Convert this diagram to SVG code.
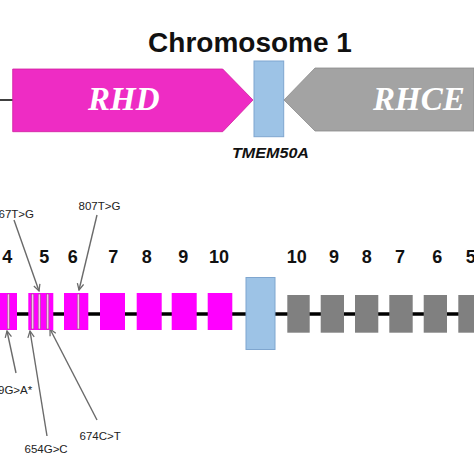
<svg xmlns="http://www.w3.org/2000/svg" width="474" height="474" viewBox="0 0 474 474">
<style>
.title{font-family:"Liberation Sans",Arial,sans-serif;font-weight:bold;font-size:28px;fill:#111}
.gene{font-family:"Liberation Serif","Times New Roman",serif;font-weight:bold;font-style:italic;font-size:33px;fill:#fff}
.tm{font-family:"Liberation Sans",Arial,sans-serif;font-weight:bold;font-style:italic;font-size:14px;fill:#111}
.num{font-family:"Liberation Sans",Arial,sans-serif;font-weight:bold;font-size:18px;fill:#111;text-anchor:middle}
.mut{font-family:"Liberation Sans",Arial,sans-serif;font-size:11.5px;fill:#222}
.exD{fill:#ff00ff}
.exC{fill:#808080}
.stripe{fill:#f6c4ec;stroke:#a0508c;stroke-width:0.6}
.blue{fill:#9dc3e6;stroke:#7fa6cf;stroke-width:1}
.ptr{stroke:#6a6a6a;stroke-width:1.4;fill:none;marker-end:url(#v)}
</style>
<defs>
<marker id="v" viewBox="0 0 10 10" refX="9" refY="5" markerWidth="8" markerHeight="8" orient="auto" markerUnits="userSpaceOnUse">
<path d="M1,1 L9,5 L1,9" fill="none" stroke="#6a6a6a" stroke-width="1.6"/>
</marker>
</defs>
<rect width="474" height="474" fill="#fff"/>

<text class="title" x="250" y="52" text-anchor="middle">Chromosome 1</text>

<g id="connectors">
<line x1="0" y1="100" x2="13" y2="100" stroke="#111" stroke-width="1.6"/>
<line x1="0" y1="314" x2="474" y2="314" stroke="#000" stroke-width="3.5"/>
<line class="ptr" x1="14" y1="220" x2="39" y2="291"/>
<line class="ptr" x1="97" y1="215" x2="79" y2="290"/>
<line class="ptr" x1="16" y1="373" x2="7" y2="331"/>
<line class="ptr" x1="47" y1="436" x2="30" y2="331"/>
<line class="ptr" x1="97" y1="420" x2="50" y2="329"/>
</g>

<g id="RHD-gene">
<polygon points="12.7,69 222.7,69 253,100 222.7,131.7 12.7,131.7" fill="#ee2cc4" stroke="#d0209e" stroke-width="0.8"/>
<text class="gene" x="88" y="110">RHD</text>
</g>
<g id="TMEM50A-gene">
<rect class="blue" x="254" y="61" width="29.7" height="75.7"/>
<text class="tm" x="232" y="158" textLength="77" lengthAdjust="spacingAndGlyphs">TMEM50A</text>
</g>
<g id="RHCE-gene">
<polygon points="474,68 315,68 284,100 315,131 474,131" fill="#a3a3a3" stroke="#8c8c8c" stroke-width="0.8"/>
<text class="gene" x="373" y="110">RHCE</text>
</g>

<g id="RHD-exon4"><rect class="exD" x="0" y="293" width="17" height="37"/><rect class="stripe" x="7.3" y="294" width="2.2" height="35"/><text class="num" x="7.3" y="263">4</text></g>
<g id="RHD-exon5"><rect class="exD" x="28.3" y="293" width="25" height="37"/><rect class="stripe" x="31.6" y="294" width="2.2" height="35"/><rect class="stripe" x="38.2" y="294" width="2.2" height="35"/><rect class="stripe" x="46.6" y="294" width="2.2" height="35"/><text class="num" x="44.3" y="263">5</text></g>
<g id="RHD-exon6"><rect class="exD" x="64" y="293" width="24.3" height="37"/><rect class="stripe" x="77.2" y="294" width="2.2" height="35"/><text class="num" x="72.7" y="263">6</text></g>
<g id="RHD-exon7"><rect class="exD" x="100" y="293" width="25" height="37"/><text class="num" x="113.3" y="263">7</text></g>
<g id="RHD-exon8"><rect class="exD" x="136.7" y="293" width="25" height="37"/><text class="num" x="146.7" y="263">8</text></g>
<g id="RHD-exon9"><rect class="exD" x="171.7" y="293" width="25" height="37"/><text class="num" x="183.3" y="263">9</text></g>
<g id="RHD-exon10"><rect class="exD" x="207.7" y="293" width="24.6" height="37"/><text class="num" x="219" y="263">10</text></g>

<g id="TMEM50A-exon"><rect class="blue" x="246" y="277.5" width="29" height="72"/></g>

<g id="RHCE-exon10"><rect class="exC" x="287.3" y="295" width="22.4" height="37.7"/><text class="num" x="296.7" y="263">10</text></g>
<g id="RHCE-exon9"><rect class="exC" x="320.7" y="295" width="23.3" height="37.7"/><text class="num" x="334" y="263">9</text></g>
<g id="RHCE-exon8"><rect class="exC" x="355" y="295" width="23.3" height="37.7"/><text class="num" x="366.7" y="263">8</text></g>
<g id="RHCE-exon7"><rect class="exC" x="389.3" y="295" width="23.4" height="37.7"/><text class="num" x="400" y="263">7</text></g>
<g id="RHCE-exon6"><rect class="exC" x="423.7" y="295" width="23.3" height="37.7"/><text class="num" x="437.3" y="263">6</text></g>
<g id="RHCE-exon5"><rect class="exC" x="458.3" y="295" width="20" height="37.7"/><text class="num" x="470.7" y="263">5</text></g>

<g id="labels">
<text class="mut" x="-1.5" y="218">67T&gt;G</text>
<text class="mut" x="78.5" y="209.5">807T&gt;G</text>
<text class="mut" x="-2" y="394">9G&gt;A*</text>
<text class="mut" x="24.5" y="453">654G&gt;C</text>
<text class="mut" x="79.5" y="440">674C&gt;T</text>
</g>
</svg>
